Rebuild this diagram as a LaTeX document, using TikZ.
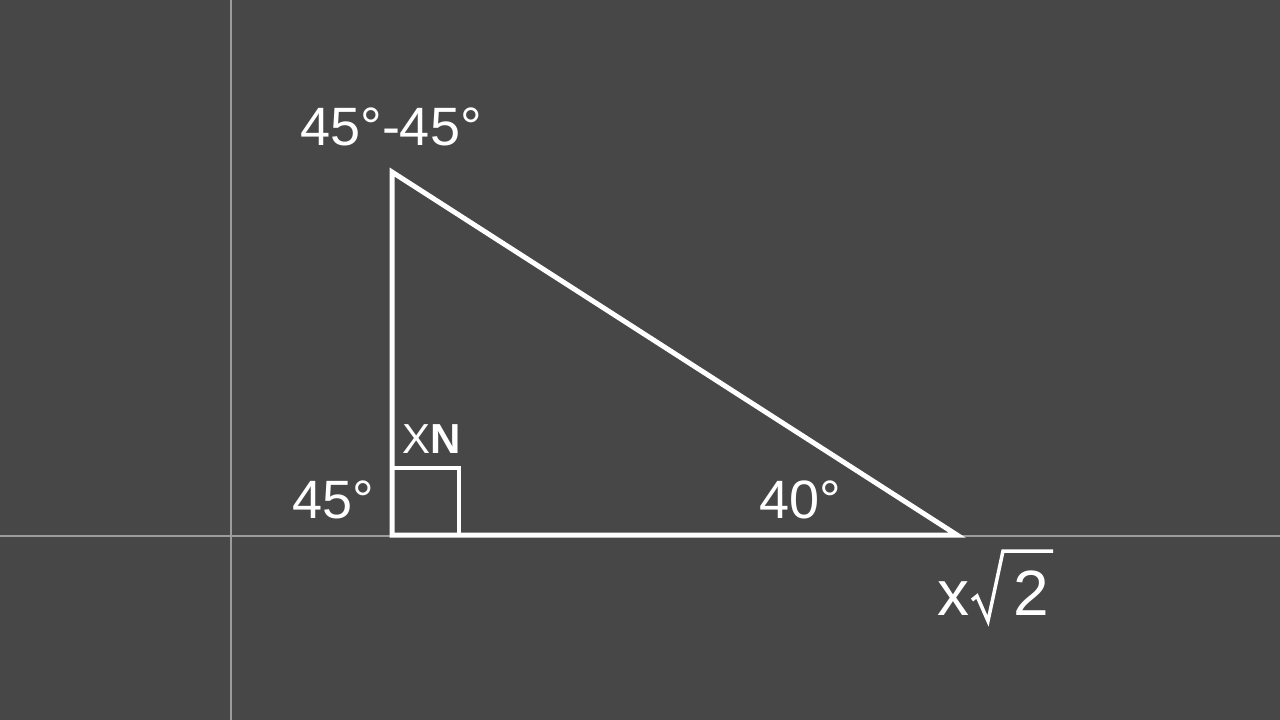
\documentclass[tikz,border=0pt]{standalone}
\usepackage{fontspec}
\setmainfont{Liberation Sans}
\begin{document}
\begin{tikzpicture}[x=1pt,y=-1pt,
  axis/.style={draw=axisgray,line width=1.6pt},
  tri/.style={draw=white,line width=5pt,line join=miter},
  lbl/.style={text=white,inner sep=0pt,anchor=base,font=\fontsize{54}{60}\selectfont}]
\definecolor{bg}{HTML}{474747}
\definecolor{axisgray}{HTML}{9C9C9C}
\useasboundingbox (0,0) rectangle (1280,720);
\fill[bg] (0,0) rectangle (1280,720);
% axes
\coordinate (vt) at (231,0);
\coordinate (vb) at (231,720);
\coordinate (hl) at (0,536);
\coordinate (hr) at (1280,536);
\draw[axis] (vt) -- (vb);
\draw[axis] (hl) -- (hr);
% triangle
\coordinate (A) at (392,172);
\coordinate (C) at (392,535);
\coordinate (B) at (957,535);
\draw[tri] (A) -- (C) -- (B) -- cycle;
\coordinate (s1) at (392,468);
\coordinate (s2) at (459,468);
\coordinate (s3) at (459,535);
\draw[tri,line width=4.5pt] (s1) -- (s2) -- (s3);
% labels
\node[lbl] (top) at (391,145) {45°-45°};
\node[lbl] (left) at (333,518) {45°};
\node[lbl] (right) at (800,518) {40°};
\node[lbl,font=\fontsize{42}{48}\selectfont] (xn) at (432,453) {X\textbf{N}};
\node[lbl,font=\fontsize{64}{72}\selectfont,anchor=base west] (xs) at (937,615) {x};
\node[lbl,font=\fontsize{64}{72}\selectfont,anchor=base west] (two) at (1013,615) {2};
\coordinate (r1) at (972,600);
\coordinate (r2) at (977,596);
\coordinate (r3) at (988,621);
\coordinate (r4) at (1003,551);
\coordinate (r5) at (1053,551);
\draw[white,line width=3.5pt,line join=miter] (r1) -- (r2) -- (r3) -- (r4) -- (r5);
\end{tikzpicture}
\end{document}
